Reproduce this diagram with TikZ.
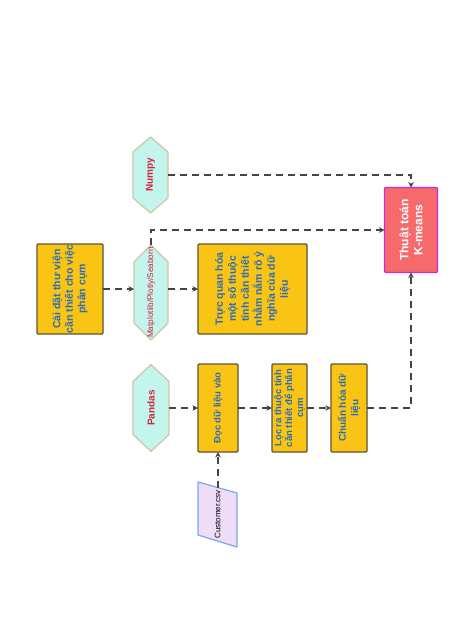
\documentclass[tikz,border=0pt]{standalone}
\usepackage{fontspec}
\setmainfont{Liberation Sans}
\usetikzlibrary{arrows.meta,calc}
\definecolor{boxyellow}{HTML}{F9C413}
\definecolor{boxborder}{HTML}{5B5436}
\definecolor{txtblue}{HTML}{2A6DB8}
\definecolor{hexfill}{HTML}{C3F5EC}
\definecolor{hexborder}{HTML}{CCC6A2}
\definecolor{txtred}{HTML}{D6213A}
\definecolor{kfill}{HTML}{F76A6C}
\definecolor{kborder}{HTML}{C22BE0}
\definecolor{csvfill}{HTML}{EFDDF8}
\definecolor{csvborder}{HTML}{78A6F2}
\definecolor{linegray}{HTML}{444444}
\tikzset{
  box/.style={draw=boxborder, fill=boxyellow, line width=1.3pt, rounded corners=1pt, inner sep=0pt, outer sep=0pt},
  bb/.style={draw=none, inner sep=0pt, outer sep=0pt},
  hexa/.style={draw=hexborder, fill=hexfill, line width=1.2pt, line join=round},
  kbox/.style={draw=kborder, fill=kfill, line width=1.3pt, rounded corners=1pt, inner sep=0pt, outer sep=0pt},
  csvshape/.style={draw=csvborder, fill=csvfill, line width=1.2pt, line join=round},
  btxt/.style={rotate=90, align=center, text=txtblue, inner sep=0pt},
  rtxt/.style={rotate=90, align=center, text=txtred, inner sep=0pt},
  conn/.style={draw=linegray, line width=1.7pt, dash pattern=on 7pt off 5pt, -{Stealth[length=5.5pt,width=5.5pt]}},
}
\begin{document}
\begin{tikzpicture}[x=1pt,y=-1pt]
\useasboundingbox (0,0) rectangle (474,632);
% yellow boxes
\node[box, minimum width=66pt, minimum height=90pt] (caidat) at (70,289) {};
\node[box, minimum width=109pt, minimum height=90pt] (truc) at (252.5,289) {};
\node[box, minimum width=40pt, minimum height=88pt] (doc) at (218,408) {};
\node[box, minimum width=35pt, minimum height=88pt] (loc) at (289.5,408) {};
\node[box, minimum width=36pt, minimum height=88pt] (chuan) at (349,408) {};
\node[kbox, minimum width=53pt, minimum height=85pt] (kmeans) at (411,230) {};
% hexagon bounding nodes
\node[bb, minimum width=35pt, minimum height=76pt] (numpy) at (150.5,175) {};
\node[bb, minimum width=34pt, minimum height=95pt] (mpl) at (151,292.5) {};
\node[bb, minimum width=36pt, minimum height=87pt] (pandas) at (151,408) {};
\foreach \h/\t in {numpy/15, mpl/17, pandas/17}{
  \draw[hexa] (\h.north) -- ($(\h.north east)+(0,\t)$) -- ($(\h.south east)-(0,\t)$)
     -- (\h.south) -- ($(\h.south west)-(0,\t)$) -- ($(\h.north west)+(0,\t)$) -- cycle;
}
% csv parallelogram
\node[bb, minimum width=39pt, minimum height=65pt] (csv) at (217.5,514.5) {};
\draw[csvshape] (198,482) -- (237,493) -- (237,547) -- (198,535) -- cycle;
\coordinate (csvtop) at (218,487.5);
% texts
\node[btxt, font={\fontsize{10.5}{12.5}\selectfont\bfseries}] at (caidat) {Cài đặt thư viện\\cần thiết cho việc\\phân cụm};
\node[btxt, font={\fontsize{10.5}{13}\selectfont\bfseries}] at (truc) {Trực quan hóa\\một số thuộc\\tính cần thiết\\nhằm nắm rõ ý\\nghĩa của dữ\\liệu};
\node[btxt, font={\fontsize{9.5}{11.5}\selectfont\bfseries}] at (doc) {Đọc dữ liệu vào};
\node[btxt, font={\fontsize{9.5}{10.8}\selectfont\bfseries}] at (loc) {Lọc ra thuộc tính\\cần thiết để phân\\cụm};
\node[btxt, font={\fontsize{10}{12.5}\selectfont\bfseries}] at (chuan) {Chuẩn hóa dữ\\liệu};
\node[rotate=90, align=center, text=white, inner sep=0pt, font={\fontsize{12}{14}\selectfont\bfseries}] at (kmeans) {Thuật toán\\K-means};
\node[rtxt, font={\fontsize{10}{12}\selectfont\bfseries}] at (numpy) {Numpy};
\node[rtxt, font={\fontsize{10}{12}\selectfont\bfseries}] at (pandas) {Pandas};
\node[rtxt, font={\fontsize{8.2}{10}\selectfont}] at (mpl) {Matplotlib/Plotly/Seaborn};
\node[rotate=90, inner sep=0pt, font={\fontsize{8}{10}\selectfont}] at (csv) {Customer.csv};
% connectors
\draw[conn] (numpy.east) -| (kmeans.north);
\draw[conn] (mpl.north) |- (kmeans.west);
\draw[conn] (caidat.east) -- (caidat.east -| mpl.west);
\draw[conn] (truc.west -| mpl.east) -- (truc.west);
\draw[conn] (pandas.east) -- (pandas.east -| doc.west);
\draw[conn] (doc.east) -- (loc.west);
\draw[conn] (loc.east) -- (chuan.west);
\draw[conn] (chuan.east) -| (kmeans.south);
\draw[conn] (csvtop) -- (doc.south);
\end{tikzpicture}
\end{document}
